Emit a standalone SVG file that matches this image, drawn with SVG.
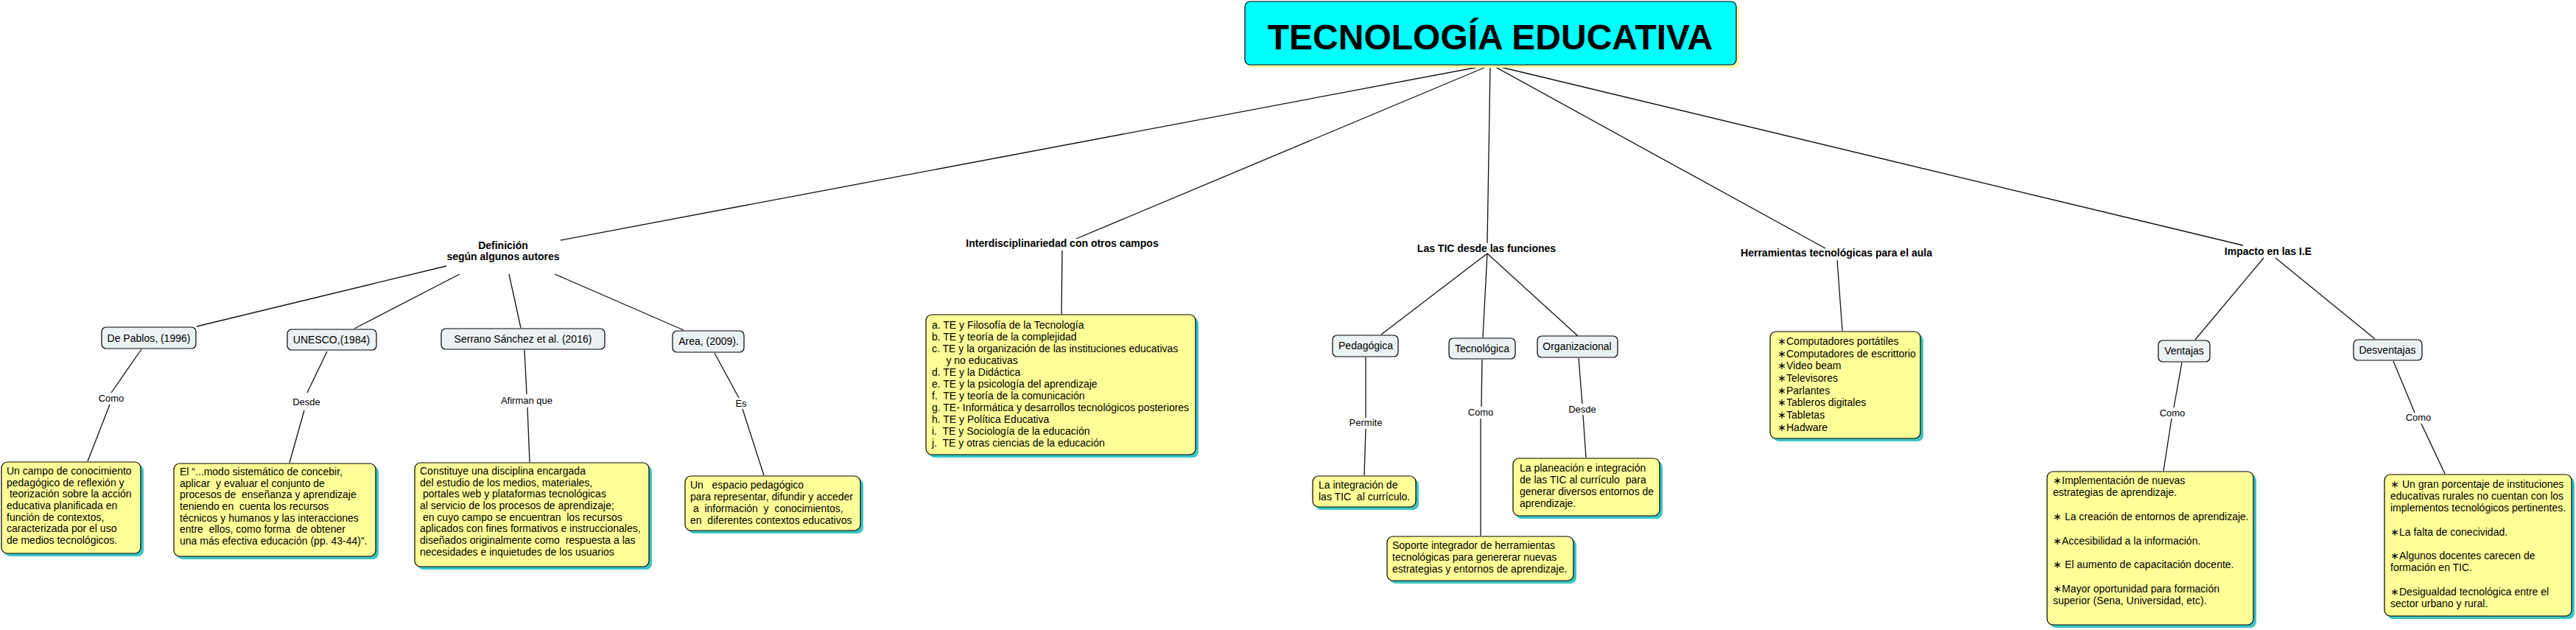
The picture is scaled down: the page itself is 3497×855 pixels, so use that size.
<svg xmlns="http://www.w3.org/2000/svg" width="3497" height="855" viewBox="0 0 3497 855" xml:space="preserve">
<style>
text{font-family:"Liberation Sans",Arial,sans-serif;fill:#000;white-space:pre}
.title{font-size:48px;font-weight:bold;text-anchor:middle}
.topic{font-size:14px;font-weight:bold;text-anchor:middle}
.node{font-size:14px;text-anchor:middle}
.desc{font-size:14px}
.lbl{font-size:13px;text-anchor:middle}
.nbox{fill:#ECF2F4;stroke:#000;stroke-width:1.2}
.ybox{fill:#FFFF99;stroke:#000;stroke-width:1.2}
.yshadow{fill:#3CC4C4}
.conn line{stroke:#111;stroke-width:1.3}
</style>
<rect width="3497" height="855" fill="#fff"/>
<g class="conn" id="connectors">
<line x1="2007" y1="91" x2="761" y2="326"/>
<line x1="2017" y1="91" x2="1461" y2="324"/>
<line x1="2023" y1="91" x2="2019" y2="330"/>
<line x1="2030" y1="91" x2="2478" y2="337"/>
<line x1="2037" y1="91" x2="3045" y2="333"/>
<line x1="606" y1="361" x2="267" y2="443"/>
<line x1="624" y1="372" x2="481" y2="446"/>
<line x1="691" y1="372" x2="707" y2="445"/>
<line x1="753" y1="372" x2="928" y2="448"/>
<line x1="192" y1="474" x2="151" y2="533"/>
<line x1="149" y1="549" x2="119" y2="626"/>
<line x1="444" y1="477" x2="417" y2="533"/>
<line x1="413" y1="557" x2="393" y2="628"/>
<line x1="712" y1="475" x2="715" y2="535"/>
<line x1="716" y1="553" x2="719" y2="627"/>
<line x1="970" y1="479" x2="1003" y2="540"/>
<line x1="1008" y1="555" x2="1037" y2="645"/>
<line x1="1442" y1="340" x2="1441" y2="426"/>
<line x1="2019" y1="344" x2="1875" y2="454"/>
<line x1="2019" y1="344" x2="2013" y2="458"/>
<line x1="2019" y1="344" x2="2142" y2="456"/>
<line x1="1854" y1="485" x2="1854" y2="567"/>
<line x1="1854" y1="582" x2="1852" y2="645"/>
<line x1="2012" y1="488" x2="2011" y2="552"/>
<line x1="2010" y1="568" x2="2010" y2="727"/>
<line x1="2143" y1="486" x2="2148" y2="548"/>
<line x1="2149" y1="563" x2="2153" y2="621"/>
<line x1="2494" y1="353" x2="2501" y2="449"/>
<line x1="3073" y1="350" x2="2980" y2="461"/>
<line x1="3089" y1="350" x2="3224" y2="460"/>
<line x1="2962" y1="492" x2="2951" y2="553"/>
<line x1="2948" y1="568" x2="2937" y2="639"/>
<line x1="3249" y1="490" x2="3278" y2="560"/>
<line x1="3287" y1="575" x2="3319" y2="643"/>
<g id="link-labels">
<text class="lbl" x="151" y="545">Como</text>
<text class="lbl" x="416" y="550">Desde</text>
<text class="lbl" x="715" y="548">Afirman que</text>
<text class="lbl" x="1006" y="552">Es</text>
<text class="lbl" x="1854" y="578">Permite</text>
<text class="lbl" x="2010" y="564">Como</text>
<text class="lbl" x="2148" y="560">Desde</text>
<text class="lbl" x="2949" y="565">Como</text>
<text class="lbl" x="3283" y="571">Como</text>
</g>
</g>
<g id="title">
<rect x="1694" y="6" width="667" height="86" rx="7" fill="#FFFFAA"/>
<rect x="1690" y="2" width="667" height="86" rx="7" fill="#00FFFF" stroke="#000" stroke-width="1.2"/>
<text class="title" x="2023" y="67">TECNOLOGÍA EDUCATIVA</text>
</g>
<g id="definicion">
<text class="topic" x="683" y="338">Definición</text>
<text class="topic" x="683" y="353">según algunos autores</text>
</g>
<g id="interdisciplinariedad">
<text class="topic" x="1442" y="335">Interdisciplinariedad con otros campos</text>
</g>
<g id="tic-funciones">
<text class="topic" x="2018" y="342">Las TIC desde las funciones</text>
</g>
<g id="herramientas">
<text class="topic" x="2493" y="348">Herramientas tecnológicas para el aula</text>
</g>
<g id="impacto">
<text class="topic" x="3079" y="346">Impacto en las I.E</text>
</g>
<g id="de-pablos">
<rect class="nbox" x="138" y="444" width="128" height="29" rx="6"/>
<text class="node" x="202" y="464">De Pablos, (1996)</text>
</g>
<g id="unesco">
<rect class="nbox" x="390" y="447" width="121" height="28" rx="6"/>
<text class="node" x="450" y="466">UNESCO,(1984)</text>
</g>
<g id="serrano">
<rect class="nbox" x="599" y="446" width="222" height="28" rx="6"/>
<text class="node" x="710" y="465">Serrano Sánchez et al. (2016)</text>
</g>
<g id="area">
<rect class="nbox" x="913" y="449" width="97" height="29" rx="6"/>
<text class="node" x="962" y="468">Area, (2009).</text>
</g>
<g id="pedagogica">
<rect class="nbox" x="1809" y="455" width="89" height="29" rx="6"/>
<text class="node" x="1854" y="474">Pedagógica</text>
</g>
<g id="tecnologica">
<rect class="nbox" x="1967" y="459" width="90" height="28" rx="6"/>
<text class="node" x="2012" y="478">Tecnológica</text>
</g>
<g id="organizacional">
<rect class="nbox" x="2087" y="456" width="109" height="29" rx="6"/>
<text class="node" x="2141" y="475">Organizacional</text>
</g>
<g id="ventajas">
<rect class="nbox" x="2930" y="462" width="70" height="29" rx="6"/>
<text class="node" x="2965" y="481">Ventajas</text>
</g>
<g id="desventajas">
<rect class="nbox" x="3195" y="461" width="93" height="28" rx="6"/>
<text class="node" x="3241" y="480">Desventajas</text>
</g>
<g id="desc-de-pablos">
<rect class="yshadow" x="6" y="631" width="189" height="124" rx="8"/>
<rect class="ybox" x="2" y="627" width="189" height="124" rx="8"/>
<text class="desc" x="9" y="644">Un campo de conocimiento</text>
<text class="desc" x="9" y="660">pedagógico de reflexión y</text>
<text class="desc" x="9" y="675"> teorización sobre la acción</text>
<text class="desc" x="9" y="691">educativa planificada en</text>
<text class="desc" x="9" y="707">función de contextos,</text>
<text class="desc" x="9" y="722">caracterizada por el uso</text>
<text class="desc" x="9" y="738">de medios tecnológicos.</text>
</g>
<g id="desc-unesco">
<rect class="yshadow" x="240" y="633" width="274" height="126" rx="8"/>
<rect class="ybox" x="236" y="629" width="274" height="126" rx="8"/>
<text class="desc" x="244" y="645">El “...modo sistemático de concebir,</text>
<text class="desc" x="244" y="661">aplicar  y evaluar el conjunto de</text>
<text class="desc" x="244" y="676">procesos de  enseñanza y aprendizaje</text>
<text class="desc" x="244" y="692">teniendo en  cuenta los recursos</text>
<text class="desc" x="244" y="708">técnicos y humanos y las interacciones</text>
<text class="desc" x="244" y="723">entre  ellos, como forma  de obtener</text>
<text class="desc" x="244" y="739">una más efectiva educación (pp. 43-44)”.</text>
</g>
<g id="desc-serrano">
<rect class="yshadow" x="567" y="632" width="318" height="141" rx="8"/>
<rect class="ybox" x="563" y="628" width="318" height="141" rx="8"/>
<text class="desc" x="570" y="644">Constituye una disciplina encargada</text>
<text class="desc" x="570" y="660">del estudio de los medios, materiales,</text>
<text class="desc" x="570" y="675"> portales web y plataformas tecnológicas</text>
<text class="desc" x="570" y="691">al servicio de los procesos de aprendizaje;</text>
<text class="desc" x="570" y="707"> en cuyo campo se encuentran  los recursos</text>
<text class="desc" x="570" y="722">aplicados con fines formativos e instruccionales,</text>
<text class="desc" x="570" y="738">diseñados originalmente como  respuesta a las</text>
<text class="desc" x="570" y="754">necesidades e inquietudes de los usuarios</text>
</g>
<g id="desc-area">
<rect class="yshadow" x="934" y="650" width="238" height="74" rx="8"/>
<rect class="ybox" x="930" y="646" width="238" height="74" rx="8"/>
<text class="desc" x="937" y="663">Un   espacio pedagógico</text>
<text class="desc" x="937" y="679">para representar, difundir y acceder</text>
<text class="desc" x="937" y="695"> a  información  y  conocimientos,</text>
<text class="desc" x="937" y="711">en  diferentes contextos educativos</text>
</g>
<g id="desc-interdisciplinariedad">
<rect class="yshadow" x="1261" y="431" width="366" height="190" rx="8"/>
<rect class="ybox" x="1257" y="427" width="366" height="190" rx="8"/>
<text class="desc" x="1265" y="446">a. TE y Filosofía de la Tecnología</text>
<text class="desc" x="1265" y="462">b. TE y teoría de la complejidad</text>
<text class="desc" x="1265" y="478">c. TE y la organización de las instituciones educativas</text>
<text class="desc" x="1265" y="494">     y no educativas</text>
<text class="desc" x="1265" y="510">d. TE y la Didáctica</text>
<text class="desc" x="1265" y="526">e. TE y la psicología del aprendizaje</text>
<text class="desc" x="1265" y="542">f.  TE y teoría de la comunicación</text>
<text class="desc" x="1265" y="558">g. TE- Informática y desarrollos tecnológicos posteriores</text>
<text class="desc" x="1265" y="574">h. TE y Política Educativa</text>
<text class="desc" x="1265" y="590">i.  TE y Sociología de la educación</text>
<text class="desc" x="1265" y="606">j.  TE y otras ciencias de la educación</text>
</g>
<g id="desc-pedagogica">
<rect class="yshadow" x="1786" y="650" width="140" height="42" rx="8"/>
<rect class="ybox" x="1782" y="646" width="140" height="42" rx="8"/>
<text class="desc" x="1790" y="663">La integración de</text>
<text class="desc" x="1790" y="679">las TIC  al currículo.</text>
</g>
<g id="desc-tecnologica">
<rect class="yshadow" x="1887" y="732" width="253" height="60" rx="8"/>
<rect class="ybox" x="1883" y="728" width="253" height="60" rx="8"/>
<text class="desc" x="1890" y="745">Soporte integrador de herramientas</text>
<text class="desc" x="1890" y="761">tecnológicas para genererar nuevas</text>
<text class="desc" x="1890" y="777">estrategias y entornos de aprendizaje.</text>
</g>
<g id="desc-organizacional">
<rect class="yshadow" x="2058" y="626" width="199" height="78" rx="8"/>
<rect class="ybox" x="2054" y="622" width="199" height="78" rx="8"/>
<text class="desc" x="2063" y="640">La planeación e integración</text>
<text class="desc" x="2063" y="656">de las TIC al currículo  para</text>
<text class="desc" x="2063" y="672">generar diversos entornos de</text>
<text class="desc" x="2063" y="688">aprendizaje.</text>
</g>
<g id="desc-herramientas">
<rect class="yshadow" x="2407" y="454" width="204" height="145" rx="8"/>
<rect class="ybox" x="2403" y="450" width="204" height="145" rx="8"/>
<text class="desc" x="2413" y="468">∗Computadores portátiles</text>
<text class="desc" x="2413" y="485">∗Computadores de escrittorio</text>
<text class="desc" x="2413" y="501">∗Video beam</text>
<text class="desc" x="2413" y="518">∗Televisores</text>
<text class="desc" x="2413" y="535">∗Parlantes</text>
<text class="desc" x="2413" y="551">∗Tableros digitales</text>
<text class="desc" x="2413" y="568">∗Tabletas</text>
<text class="desc" x="2413" y="585">∗Hadware</text>
</g>
<g id="desc-ventajas">
<rect class="yshadow" x="2783" y="644" width="280" height="208" rx="8"/>
<rect class="ybox" x="2779" y="640" width="280" height="208" rx="8"/>
<text class="desc" x="2787" y="657">∗Implementación de nuevas</text>
<text class="desc" x="2787" y="673">estrategias de aprendizaje.</text>
<text class="desc" x="2787" y="706">∗ La creación de entornos de aprendizaje.</text>
<text class="desc" x="2787" y="739">∗Accesibilidad a la información.</text>
<text class="desc" x="2787" y="771">∗ El aumento de capacitación docente.</text>
<text class="desc" x="2787" y="804">∗Mayor oportunidad para formación</text>
<text class="desc" x="2787" y="820">superior (Sena, Universidad, etc).</text>
</g>
<g id="desc-desventajas">
<rect class="yshadow" x="3241" y="648" width="254" height="192" rx="8"/>
<rect class="ybox" x="3237" y="644" width="254" height="192" rx="8"/>
<text class="desc" x="3245" y="662">∗ Un gran porcentaje de instituciones</text>
<text class="desc" x="3245" y="678">educativas rurales no cuentan con los</text>
<text class="desc" x="3245" y="694">implementos tecnológicos pertinentes.</text>
<text class="desc" x="3245" y="727">∗La falta de conecividad.</text>
<text class="desc" x="3245" y="759">∗Algunos docentes carecen de</text>
<text class="desc" x="3245" y="775">formación en TIC.</text>
<text class="desc" x="3245" y="808">∗Desigualdad tecnológica entre el</text>
<text class="desc" x="3245" y="824">sector urbano y rural.</text>
</g>
</svg>
